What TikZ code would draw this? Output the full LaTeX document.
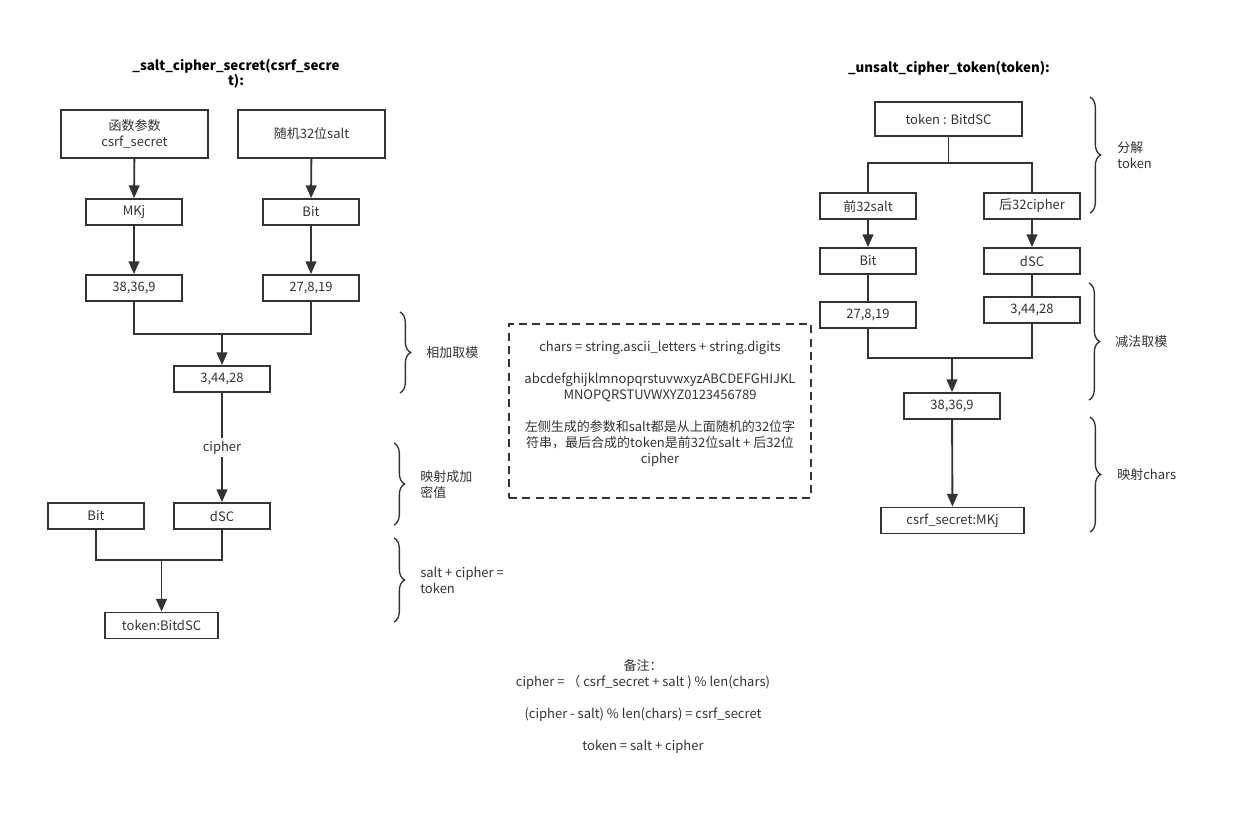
\documentclass[tikz,border=0pt]{standalone}
\usepackage{fontspec}
\setmainfont{Noto Sans CJK SC}
\usetikzlibrary{arrows.meta,decorations.pathreplacing}

\definecolor{linegray}{RGB}{51,51,51}
\tikzset{
  box/.style={draw=linegray, line width=1.4pt, minimum width=72pt, minimum height=19.5pt, inner sep=1pt, text=linegray},
  bigbox/.style={box, minimum width=110.25pt, minimum height=36pt, align=center},
  conn/.style={draw=linegray, line width=1.4pt},
  arr/.style={conn, -{Triangle[length=9.5pt,width=8pt]}},
  brc/.style={draw=linegray, line width=1pt, decorate, decoration={brace, amplitude=8pt}},
  lbl/.style={anchor=west, align=left, text=linegray, inner sep=0pt},
  ttl/.style={font=\fontsize{10}{11.25}\selectfont\bfseries, align=center, text=black}
}

\begin{document}
\begin{tikzpicture}[x=0.75pt,y=0.75pt,yscale=-1,xscale=1,font=\fontsize{9.75}{12}\selectfont]
\path (0,0) rectangle (1238,826); %page size

% Titles
\node[ttl] (ltitle) at (236,74) {\_salt\_cipher\_secret(csrf\_secre\\t):};
\node[ttl] (rtitle) at (949,68) {\_unsalt\_cipher\_token(token):};

% Left boxes
\node[bigbox] (arg) at (134.5,134) {函数参数\\csrf\_secret};
\node[bigbox] (salt) at (311.5,134) {随机32位salt};
\node[box] (mkj) at (134,212) {MKj};
\node[box] (bit) at (311,212) {Bit};
\node[box] (num1) at (134,288) {38,36,9};
\node[box] (num2) at (311,288) {27,8,19};
\node[box] (sum) at (222,379) {3,44,28};
\node[box] (bit2) at (96,516) {Bit};
\node[box] (dsc) at (222,516) {dSC};
\node[box, minimum width=84.75pt] (tok) at (161.5,625.5) {token:BitdSC};
\coordinate (m1) at (222,334);
\coordinate (m2) at (161.5,560);

% Left connectors
\draw[arr] (arg) -- (mkj);
\draw[arr] (salt) -- (bit);
\draw[arr] (mkj) -- (num1);
\draw[arr] (bit) -- (num2);
\draw[conn] (num1) |- (m1) -| (num2);
\draw[arr] (m1) -- (sum);
\draw[arr] (sum) -- node[fill=white, inner sep=2pt, text=linegray] (ciph) {cipher} (dsc);
\draw[conn] (bit2) |- (m2) -| (dsc);
\draw[arr] (m2) -- (tok);

% Right boxes
\node[bigbox, minimum height=25.5pt] (rtok) at (948.5,119) {token : BitdSC};
\node[box] (pre) at (868,206) {前32salt};
\node[box] (post) at (1032,206) {后32cipher};
\node[box] (rbit) at (868,261) {Bit};
\node[box] (rdsc) at (1032,261) {dSC};
\node[box] (rn1) at (868,315) {27,8,19};
\node[box] (rn2) at (1032,310) {3,44,28};
\node[box] (rsum) at (952,406) {38,36,9};
\node[box, minimum width=107.25pt] (rsec) at (952.5,520.5) {csrf\_secret:MKj};
\coordinate (m3) at (948.5,163);
\coordinate (m4) at (952,358);

% Right connectors
\draw[conn] (rtok) -- (m3);
\draw[conn] (pre) |- (m3) -| (post);
\draw[arr] (pre) -- (rbit);
\draw[arr] (post) -- (rdsc);
\draw[conn] (rbit) -- (rn1);
\draw[conn] (rdsc) -- (rn2);
\draw[conn] (rn1) |- (m4) -| (rn2);
\draw[arr] (m4) -- (rsum);
\draw[arr] (rsum) -- (rsec);

% Dashed note
\node[draw=linegray, line width=1.4pt, dash pattern=on 6pt off 4pt, minimum width=226.5pt, minimum height=130.5pt] (notebox) at (660,411) {};
\node[align=center, text=linegray] (notetxt) at (660,404) {chars = string.ascii\_letters + string.digits\\[12pt]abcdefghijklmnopqrstuvwxyzABCDEFGHIJKL\\MNOPQRSTUVWXYZ0123456789\\[12pt]左侧生成的参数和salt都是从上面随机的32位字\\符串，最后合成的token是前32位salt + 后32位\\cipher};

% Remarks
\node[align=center, text=linegray] (remark) at (643,706) {备注：\\cipher = （ csrf\_secret + salt ) \% len(chars)\\[12pt](cipher - salt) \% len(chars) = csrf\_secret\\[12pt]token = salt + cipher};

% Braces
\draw[brc] (400,312) -- (400,393);
\node[lbl] (b1) at (426,353) {相加取模};
\draw[brc] (394,443) -- (394,525);
\node[lbl] (b2) at (420,485) {映射成加\\密值};
\draw[brc] (394,538) -- (394,622);
\node[lbl] (b3) at (420,580) {salt + cipher =\\token};
\draw[brc] (1090,97) -- (1090,213);
\node[lbl] (b4) at (1117,155) {分解\\token};
\draw[brc] (1089,283) -- (1089,400);
\node[lbl] (b5) at (1115,342) {减法取模};
\draw[brc] (1090,417) -- (1090,532);
\node[lbl] (b6) at (1117,475) {映射chars};
\end{tikzpicture}
\end{document}
